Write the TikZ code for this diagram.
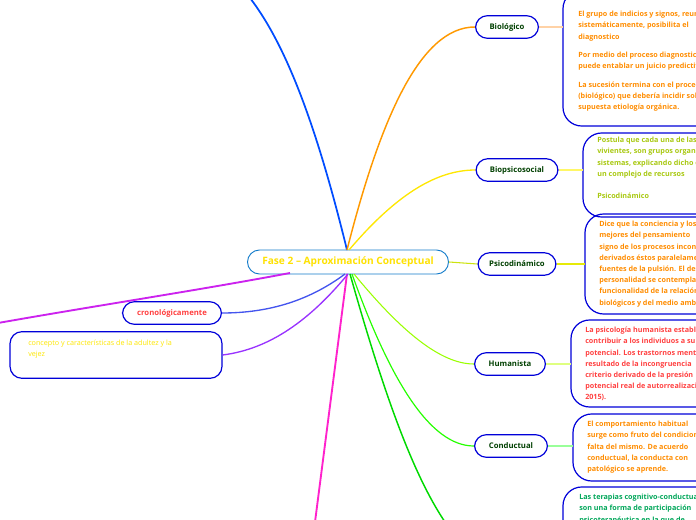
\documentclass[tikz,border=0pt]{standalone}
\usepackage{fontspec}
\setmainfont{Open Sans}
\definecolor{lmag}{HTML}{CC22EE}
\definecolor{bmag}{HTML}{FF22CC}
\definecolor{pviol}{HTML}{9933FF}
\definecolor{cblue}{HTML}{4455EE}
\definecolor{yg}{HTML}{A8C810}
\begin{document}
\begin{tikzpicture}[x=0.75pt,y=-0.75pt,
  topic/.style={draw=blue!85!black,line width=0.9pt,rounded corners=9pt,fill=white,minimum height=17pt,font=\bfseries\fontsize{5.8}{7}\selectfont,text=green!25!black,inner xsep=8pt},
  detail/.style={draw=blue!85!black,line width=0.9pt,rounded corners=14pt},
  dtext/.style={anchor=north west,align=left,font=\bfseries\fontsize{5.4}{8.4}\selectfont,inner sep=0pt}]
\useasboundingbox (0,0) rectangle (696,520);
\begin{scope}
\clip (0,0) rectangle (696,520);
% central
\node[draw=cyan!60!blue,line width=0.7pt,rounded corners=9pt,minimum width=201*0.75pt,minimum height=18pt,font=\bfseries\fontsize{7.6}{9}\selectfont,text=yellow!85!orange,fill=white] (c) at (348,262) {Fase 2 – Aproximación Conceptual};
\coordinate (ctop) at (347,250);
% topics
\node[topic,minimum width=63*0.75pt] (bio) at (507,27) {Biológico};
\node[topic,minimum width=82*0.75pt] (bps) at (517,170) {Biopsicosocial};
\node[topic,minimum width=78*0.75pt] (psd) at (517,264) {Psicodinámico};
\node[topic,minimum width=71*0.75pt] (hum) at (510,364) {Humanista};
\node[topic,minimum width=73*0.75pt] (con) at (511,446) {Conductual};
\node[topic,minimum width=99*0.75pt,text=red!75!white] (cro) at (172,313) {cronológicamente};
\node[topic,minimum width=212*0.75pt,minimum height=35pt] (cpt) at (116,355) {};
\node[dtext,text=yellow!90!orange,font=\fontsize{5.4}{8}\selectfont] at (28,340) {concepto y características de la adultez y la\\vejez};
% free ends
\coordinate (t1) at (250,-2);
\coordinate (b1) at (315,522);
\coordinate (b2) at (445,522);
\coordinate (l1) at (-2,323);
% connectors
\draw[blue!70!cyan,line width=1.3pt] (ctop) .. controls (320,140) and (290,50) .. (t1);
\draw[orange!80!yellow,line width=1.1pt] (ctop) .. controls (380,120) and (420,27) .. (bio.west);
\draw[yellow!90!orange,line width=1pt] (349,250) .. controls (400,190) and (440,170) .. (bps.west);
\draw[yellow!80!green,line width=0.8pt] (c.east) -- (psd.west);
\draw[lime!80!green,line width=0.8pt] (354,274) .. controls (400,330) and (440,364) .. (hum.west);
\draw[green!80!lime,line width=0.9pt] (352,274) .. controls (390,380) and (430,446) .. (con.west);
\draw[green!85!black,line width=1.1pt] (350,274) .. controls (380,380) and (410,470) .. (b2);
\draw[bmag,line width=1.4pt] (347,274) -- (b1);
\draw[lmag,line width=1.4pt] (290,273) .. controls (200,290) and (100,305) .. (l1);
\draw[cblue,line width=1pt] (345,274) .. controls (310,300) and (270,313) .. (cro.east);
\draw[pviol,line width=1pt] (348,274) .. controls (310,320) and (270,349) .. (cpt.east);
% detail boxes
\draw[detail] (563,-10) rectangle (720,126);
\draw[detail] (583,133) rectangle (720,217);
\draw[detail] (585,214) rectangle (720,314);
\draw[detail] (571,320) rectangle (720,407);
\draw[detail] (573,414) rectangle (720,481);
\draw[detail] (563,487) rectangle (720,540);
\coordinate (d1) at (563,27);
\coordinate (d2) at (583,170);
\coordinate (d3) at (585,264);
\coordinate (d4) at (571,364);
\coordinate (d5) at (573,446);
\draw[orange!35,line width=0.9pt] (bio.east) -- (d1);
\draw[yellow!60,line width=0.9pt] (bps.east) -- (d2);
\draw[yellow!60!lime,line width=0.9pt] (psd.east) -- (d3);
\draw[lime!50,line width=0.9pt] (hum.east) -- (d4);
\draw[green!40,line width=0.9pt] (con.east) -- (d5);
% detail texts
\node[dtext,text=orange!90!yellow] at (578,11) {El grupo de indicios y signos, reunidos\\sistemáticamente, posibilita el\\diagnostico\\[5.5pt]Por medio del proceso diagnostico se\\puede entablar un juicio predictivo\\[5.5pt]La sucesión termina con el procedimiento\\(biológico) que debería incidir sobre la\\supuesta etiología orgánica.};
\node[dtext,text=yg] at (597,137) {Postula que cada una de las entidades\\vivientes, son grupos organizados de\\sistemas, explicando dicho organismo como\\un complejo de recursos\\[8pt]Psicodinámico};
\node[dtext,text=orange!90!yellow] at (599,221) {Dice que la conciencia y los\\mejores del pensamiento\\signo de los procesos inconscientes\\derivados éstos paralelamente de las\\fuentes de la pulsión. El desarrollo\\personalidad se contempla como la\\funcionalidad de la relación entre\\biológicos y del medio ambiente};
\node[dtext,text=red!75!white] at (585,327) {La psicología humanista establece\\contribuir a los individuos a su\\potencial. Los trastornos mentales\\resultado de la incongruencia\\criterio derivado de la presión\\potencial real de autorrealización\\2015).};
\node[dtext,text=orange!90!yellow] at (587,421) {El comportamiento habitual\\surge como fruto del condicionamiento\\falta del mismo. De acuerdo\\conductual, la conducta con\\patológico se aprende.};
\node[dtext,text=teal!70!green] at (579,494) {Las terapias cognitivo-conductuales\\son una forma de participación\\psicoterapéutica en la que de};
\end{scope}
\end{tikzpicture}
\end{document}
